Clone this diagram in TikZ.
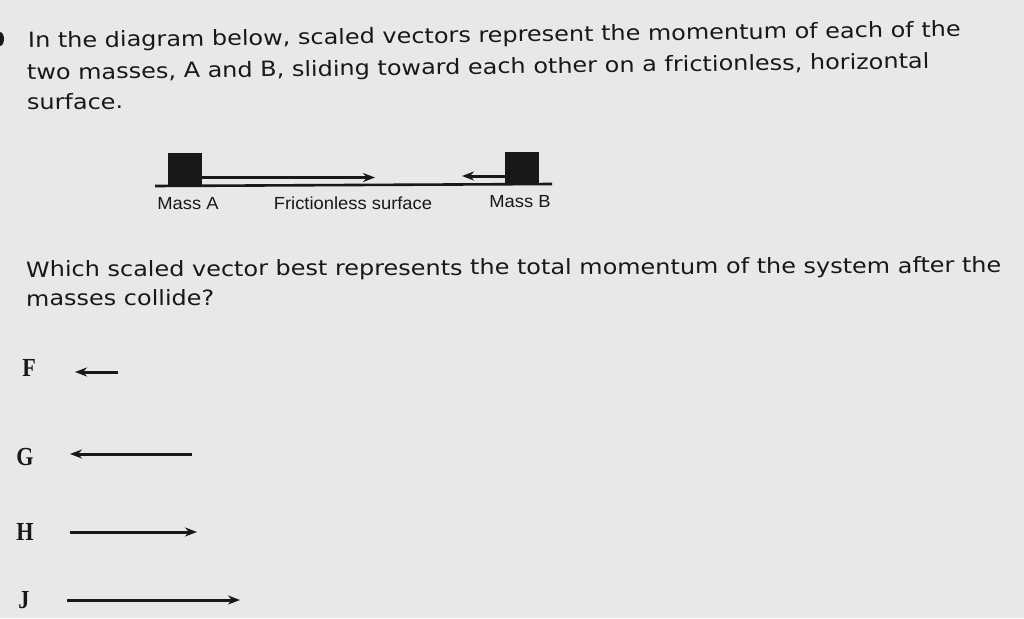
\documentclass[tikz,border=0pt]{standalone}
\usepackage{fontspec}
\setmainfont{DejaVu Sans}
\newfontfamily\labelfont{Liberation Sans}
\newfontfamily\choicefont{Liberation Serif}
\usepackage{tikz}
\usetikzlibrary{positioning,arrows.meta}
\usepackage{xcolor}
\definecolor{paper}{RGB}{232,232,230}
\definecolor{ink}{RGB}{24,24,24}

\begin{document}
\begin{tikzpicture}[%
    x=1pt,
    y=-1pt,
    >={Stealth[length=12pt,width=9pt]},
    para/.style={%
      anchor=base west,
      inner sep=0pt,
      text=ink,
      xscale=1.14,
      font=\fontsize{21}{24}\selectfont
    },
    mass/.style={%
      fill=ink,
      inner sep=0pt,
      minimum width=34pt,
      minimum height=33pt
    },
    lbl/.style={%
      anchor=base,
      inner sep=0pt,
      text=ink,
      xscale=1.05,
      font=\labelfont\fontsize{17.5}{20}\selectfont
    },
    choice/.style={%
      inner sep=0pt,
      text=ink,
      xscale=0.85,
      font=\choicefont\bfseries\fontsize{26}{26}\selectfont
    },
    vec/.style={%
      ->,
      draw=ink,
      line width=3pt
    }
  ]
    \fill[paper] (0,0) rectangle (1024,618);
    \useasboundingbox (0,0) rectangle (1024,618);
    % cut-off mark at the left edge
    \fill[ink] (0,39) ellipse [x radius=4, y radius=7];

    % question text
    \node[para, rotate=0.8] (q1) at (28,48)
      {In the diagram below, scaled vectors represent the momentum of each of the};
    \node[para, rotate=0.85] (q2) at (27,80)
      {two masses, A and B, sliding toward each other on a frictionless, horizontal};
    \node[para, rotate=0.8] (q3) at (27,110) {surface.};

    % the two masses on the surface
    \node[mass] (A) at (185,169.5) {};
    \node[mass] (B) at (522,168.5) {};
    \coordinate (floorL) at (155,186);
    \coordinate (floorR) at (552,184);
    \coordinate (tipA) at (375,177.5);
    \coordinate (tipB) at (462,176);
    \draw[ink, line width=2.6pt] (floorL) -- (floorR);
    \path (A.east |- tipA) edge [vec] (tipA)
          (B.west |- tipB) edge [vec] (tipB);
    \node[lbl] (labA) at (188,209) {Mass A};
    \node[lbl] (labS) at (353,209) {Frictionless surface};
    \node[lbl] (labB) at (520,207) {Mass B};

    \node[para, rotate=0.3] (w1) at (26,277)
      {Which scaled vector best represents the total momentum of the system after the};
    \node[para, rotate=0.3] (w2) at (26,306) {masses collide?};

    % answer choices
    \node[choice] (F) at (29,368) {F};
    \node[choice] (G) at (25,457) {G};
    \node[choice] (H) at (25,532) {H};
    \node[choice] (J) at (24,600) {J};
    \coordinate (f0) at (118,372);
    \coordinate (f1) at (75,372);
    \coordinate (g0) at (192,454);
    \coordinate (g1) at (70,454);
    \coordinate (h0) at (70,532);
    \coordinate (h1) at (197,532);
    \coordinate (j0) at (67,600);
    \coordinate (j1) at (240,600);
    \path (f0) edge [vec] (f1)
          (g0) edge [vec] (g1)
          (h0) edge [vec] (h1)
          (j0) edge [vec] (j1);
  \end{tikzpicture}
\end{document}
